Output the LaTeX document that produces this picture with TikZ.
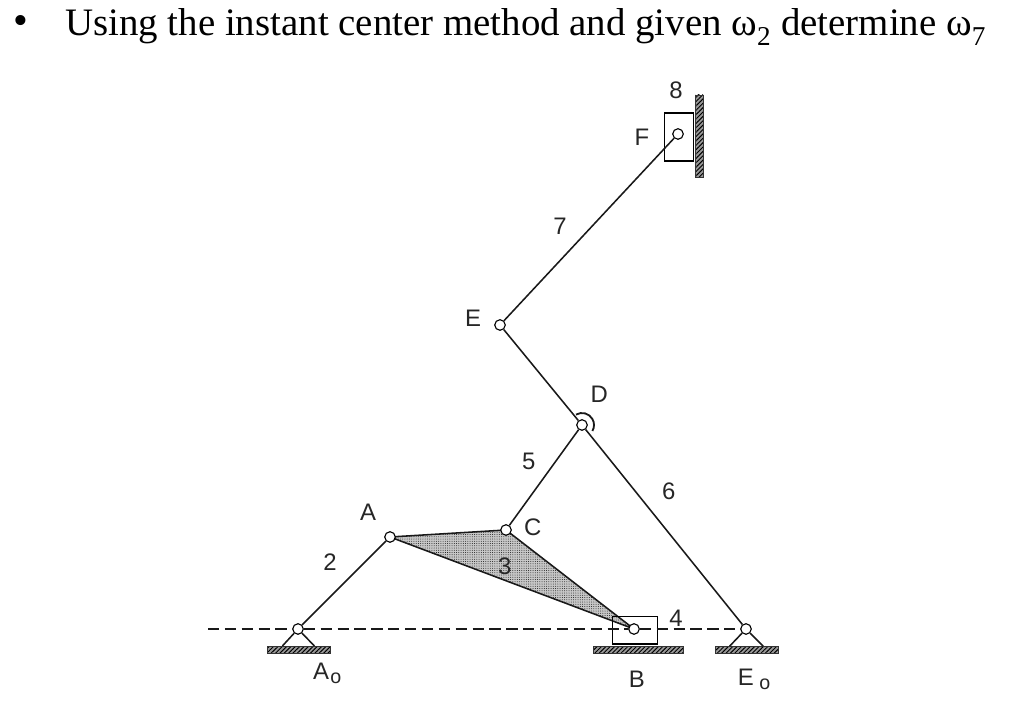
\documentclass[tikz,border=0pt]{standalone}
\usepackage{fontspec}
\setmainfont{Liberation Serif}
\newfontfamily\lbfont{Liberation Sans}
\usetikzlibrary{patterns.meta,backgrounds}
\newcommand{\subo}{\raisebox{-2.5pt}{\fontsize{14}{14}\selectfont o}}
\newcommand{\subd}[1]{\raisebox{-2.5pt}{\textsubscript{#1}}}
\tikzset{
    PIN/.style ={circle,minimum width = 7.5pt, inner sep=0pt, draw, fill=white, line width=.8pt},
    GR/.style ={rectangle,minimum height = 5pt, inner sep=0pt, draw=black!80, preaction={fill=black!40}, pattern={Lines[angle=45,distance=2.2pt,line width=.7pt]}},
    BX/.style ={rectangle,inner sep=0pt, draw, line width=.9pt},
    LB/.style ={font=\lbfont\fontsize{17}{20}\selectfont,text=black!85},
    LK/.style ={line width=1.1pt,black!90},
    CL/.style ={line width=.9pt,dash pattern=on 8pt off 4pt,black!90}
}
\begin{document}
\begin{tikzpicture}
        \useasboundingbox (0,0) rectangle (25.6,17.75);
        \node at (.52,17.12){\fontsize{30}{32}\selectfont\textbullet};
        \node[anchor=west,inner sep=0pt] (TT) at (1.625,17.07){\fontsize{27.66}{32}\selectfont Using the instant center method and given ω\subd{2} determine ω\subd{7}};
        % ground and sliders
        \node[GR,minimum width=1.57cm] (GA) at (7.46,1.5){};
        \node[GR,minimum width=2.25cm] (GB) at (15.95,1.5){};
        \node[GR,minimum width=1.57cm] (GE) at (18.66,1.5){};
        \node[GR,minimum width=.2cm,minimum height=2.05cm] (GF) at (17.48,14.35){};
        \node[BX,minimum width=1.13cm,minimum height=.68cm] (SB) at (15.88,1.99){};
        \node[BX,minimum width=.73cm,minimum height=1.2cm] (SF) at (16.97,14.325){};
        % joints
        \node[PIN] (A0) at (7.45,2.025){};
        \node[PIN] (A) at (9.75,4.325){};
        \node[PIN] (C) at (12.65,4.5){};
        \node[PIN] (B) at (15.85,2.025){};
        \node[PIN] (D) at (14.55,7.125){};
        \node[PIN] (E) at (12.5,9.625){};
        \node[PIN] (F) at (16.95,14.4){};
        \node[PIN] (E0) at (18.65,2.025){};
        \coordinate (L) at (5.2,2.025);
        % center line
        \draw[CL] (L)--(A0);
        \draw[CL] (A0)--(B);
        \draw[CL] (B)--(E0);
        % links
        \begin{scope}[on background layer]
            \draw[LK,preaction={fill=black!22},pattern={Dots[distance=1.6pt,radius=.3pt]}] (A.center)--(C.center)--(B.center)--cycle;
        \end{scope}
        \draw[LK] (A0)--(A);
        \draw[LK] (C)--(D);
        \draw[LK] (E0)--(D);
        \draw[LK] (D)--(E);
        \draw[LK] (E)--(F);
        \draw[line width=1.3pt,black!90] (D)+(120:.3) arc (120:-30:.3);
        \draw[LK] ([xshift=-.4cm]GA.north)--(A0);
        \draw[LK] ([xshift=.4cm]GA.north)--(A0);
        \draw[LK] ([xshift=-.42cm]GE.north)--(E0);
        \draw[LK] ([xshift=.42cm]GE.north)--(E0);
        % labels
        \node[LB] (L8) at (16.9,15.5){8};
        \node[LB] (LF) at (16.05,14.32){F};
        \node[LB] (L7) at (14,12.1){7};
        \node[LB] (LE) at (11.83,9.8){E};
        \node[LB] (LD) at (14.98,7.9){D};
        \node[LB] (L5) at (13.22,6.22){5};
        \node[LB] (L6) at (16.72,5.47){6};
        \node[LB] (LA) at (9.2,4.95){A};
        \node[LB] (LC) at (13.32,4.57){C};
        \node[LB] (L2) at (8.25,3.7){2};
        \node[LB] (L3) at (12.62,3.6){3};
        \node[LB] (L4) at (16.9,2.3){4};
        \node[LB] (LA0) at (8.18,.92){A\kern1pt\subo};
        \node[LB] (LB0) at (15.92,.76){B};
        \node[LB] (LE0) at (18.85,.76){E\kern4pt\subo};
    \end{tikzpicture}
\end{document}
